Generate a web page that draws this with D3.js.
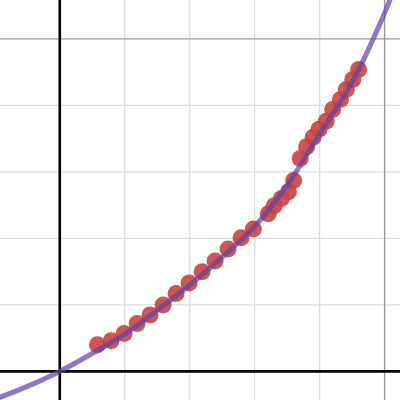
<!DOCTYPE html>
<html><head><meta charset="utf-8">
<script src="https://cdn.jsdelivr.net/npm/d3@7"></script>
<style>html,body{margin:0;padding:0;background:#fff;overflow:hidden}</style>
</head><body>
<svg id="c" width="400" height="400"></svg>
<script>
const xData = [0.58,0.79,0.99,1.19,1.39,1.59,1.79,1.99,2.19,2.39,2.59,2.79,2.98,3.21,3.3,3.41,3.52,3.6,3.7,3.8,3.9,3.99,4.1,4.2,4.32,4.41,4.51,4.6];
const yData = [0.40,0.46,0.57,0.72,0.85,1.00,1.17,1.33,1.50,1.66,1.84,2.01,2.14,2.37,2.49,2.60,2.70,2.87,3.20,3.38,3.52,3.64,3.76,3.94,4.09,4.24,4.39,4.54];
const curveX = [-0.95,-0.5,0,0.5,1,1.5,2,2.5,3,3.5,4,4.5,5,5.2];
const curveY = [-0.40,-0.225,0,0.27,0.56,0.92,1.30,1.72,2.18,2.80,3.57,4.35,5.39,5.90];
const gridTicks = [-1,0,1,2,3,4,5,6];
const majorTicks = [5];

const W = 400, H = 400;
const x = d3.scaleLinear().domain([0,5]).range([59.8,384.6]);
const y = d3.scaleLinear().domain([0,5]).range([371.4,38.9]);
const svg = d3.select('#c');

const minor = gridTicks.filter(t=>t!==0 && !majorTicks.includes(t));
svg.append('g').selectAll('line').data(minor).join('line')
  .attr('x1',d=>x(d)).attr('x2',d=>x(d)).attr('y1',0).attr('y2',H)
  .attr('stroke','#dcdcdc').attr('stroke-width',1.4);
svg.append('g').selectAll('line').data(minor).join('line')
  .attr('y1',d=>y(d)).attr('y2',d=>y(d)).attr('x1',0).attr('x2',W)
  .attr('stroke','#dcdcdc').attr('stroke-width',1.4);
svg.append('g').selectAll('line').data(majorTicks).join('line')
  .attr('x1',d=>x(d)).attr('x2',d=>x(d)).attr('y1',0).attr('y2',H)
  .attr('stroke','#9a9a9a').attr('stroke-width',1.4);
svg.append('g').selectAll('line').data(majorTicks).join('line')
  .attr('y1',d=>y(d)).attr('y2',d=>y(d)).attr('x1',0).attr('x2',W)
  .attr('stroke','#9a9a9a').attr('stroke-width',1.4);
svg.append('line').attr('x1',x(0)).attr('x2',x(0)).attr('y1',0).attr('y2',H).attr('stroke','#000').attr('stroke-width',2.6);
svg.append('line').attr('y1',y(0)).attr('y2',y(0)).attr('x1',0).attr('x2',W).attr('stroke','#000').attr('stroke-width',2.6);

svg.append('g').selectAll('circle').data(xData.map((v,i)=>[v,yData[i]])).join('circle')
  .attr('cx',d=>x(d[0])).attr('cy',d=>y(d[1])).attr('r',8.5)
  .attr('fill','#c74440').attr('fill-opacity',0.9);

const line = d3.line().x(d=>x(d[0])).y(d=>y(d[1])).curve(d3.curveCatmullRom.alpha(0.5));
svg.append('path').datum(curveX.map((v,i)=>[v,curveY[i]])).attr('d',line).attr('fill','none')
  .attr('stroke','#6042a6').attr('stroke-opacity',0.7).attr('stroke-width',5).attr('stroke-linejoin','round');
</script>
</body></html>
